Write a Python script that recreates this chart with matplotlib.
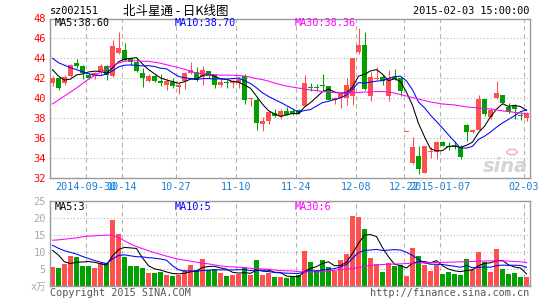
import numpy as np
import pandas as pd
import matplotlib
matplotlib.use("Agg")
import matplotlib.pyplot as plt
from matplotlib.patches import Circle

# daily candles, 80 sessions
opens = [41.5, 42.0, 41.5, 42.2, 43.5, 43.2, 42.3, 42.2, 42.6, 43.2,
         42.2, 44.5, 44.8, 44.0, 43.6, 42.5, 41.7, 42.2, 41.7, 41.3,
         41.6, 41.1, 41.7, 42.5, 42.6, 42.1, 42.7, 42.3, 41.3, 41.55,
         41.5, 41.5, 42.2, 39.9, 39.8, 37.4, 37.7, 38.5, 38.2, 38.7,
         38.7, 38.8, 39.2, 41.05, 41.05, 41.25, 41.2, 39.8, 40.0, 40.0,
         40.2, 44.6, 45.3, 40.2, 41.9, 42.1, 40.2, 42.1, 42.0, 36.6,
         33.5, 34.2, 32.5, 34.6, 34.6, 35.6, 35.15, 35.25, 35.1, 37.3,
         36.6, 36.8, 39.9, 38.1, 40.0, 40.3, 39.1, 39.2, 38.25, 38.0]
highs = [42.2, 42.1, 42.3, 43.4, 43.95, 43.3, 42.5, 42.6, 43.4, 43.3,
         45.8, 46.6, 45.5, 44.1, 43.9, 43.0, 42.4, 42.3, 42.4, 41.9,
         42.0, 41.5, 42.6, 43.6, 43.1, 43.2, 42.7, 42.4, 41.9, 41.8,
         41.9, 42.1, 42.4, 40.0, 40.0, 38.1, 38.7, 38.9, 38.9, 39.1,
         38.9, 38.9, 42.3, 41.5, 41.4, 42.4, 41.2, 40.1, 40.5, 42.0,
         44.0, 47.0, 46.6, 42.6, 43.1, 42.3, 42.8, 42.9, 42.1, 36.6,
         36.1, 35.2, 35.2, 35.1, 35.7, 35.7, 35.6, 35.7, 35.3, 37.4,
         36.9, 40.3, 39.9, 39.0, 41.7, 40.3, 39.5, 39.4, 38.6, 38.6]
lows = [41.2, 40.8, 41.3, 42.1, 43.0, 41.9, 41.9, 41.9, 42.4, 41.8,
        42.1, 44.4, 43.7, 43.3, 42.6, 41.1, 41.6, 41.6, 41.2, 40.8,
        41.0, 40.4, 40.9, 42.4, 41.7, 41.3, 42.0, 41.0, 41.1, 41.0,
        41.0, 41.0, 39.4, 39.2, 36.8, 36.7, 37.4, 38.1, 37.9, 38.3,
        38.3, 38.4, 39.2, 40.7, 40.7, 40.7, 39.8, 39.4, 39.0, 39.3,
        39.3, 44.4, 40.8, 39.7, 41.8, 41.3, 39.7, 41.8, 40.2, 36.6,
        33.4, 32.4, 32.5, 34.0, 33.9, 35.2, 34.8, 34.9, 33.9, 35.7,
        36.5, 36.8, 38.2, 37.9, 39.9, 39.5, 38.5, 37.9, 37.8, 37.7]
closes = [42.0, 41.0, 42.1, 43.3, 43.2, 42.5, 42.0, 42.5, 43.2, 42.3,
          45.2, 45.0, 43.8, 43.6, 42.7, 42.0, 42.2, 41.7, 41.5, 41.7,
          41.2, 41.3, 42.5, 42.8, 41.8, 42.8, 42.2, 41.3, 41.6, 41.5,
          41.7, 41.9, 39.8, 40.0, 37.5, 37.7, 38.6, 38.2, 38.7, 38.3,
          38.4, 38.5, 41.5, 41.0, 41.0, 41.2, 39.8, 40.0, 40.4, 41.3,
          44.0, 45.3, 40.9, 42.1, 42.0, 41.7, 42.0, 41.9, 40.7, 36.6,
          35.1, 32.9, 35.2, 34.62, 35.6, 35.2, 35.1, 35.2, 34.1, 36.6,
          36.8, 39.9, 38.4, 38.8, 40.5, 39.5, 38.6, 38.9, 38.2, 38.5]
volumes = [5.5, 5.2, 6.4, 8.8, 8.5, 5.9, 5.9, 5.2, 6.7, 6.7,
           19.3, 15.2, 8.5, 5.9, 5.9, 5.2, 3.8, 3.8, 4.1, 3.2,
           2.9, 3.2, 4.7, 6.2, 4.7, 7.8, 4.7, 5.0, 3.8, 2.9,
           3.2, 3.5, 5.5, 3.0, 7.4, 3.2, 3.6, 2.4, 2.6, 2.1,
           2.6, 3.2, 10.3, 7.1, 4.7, 7.4, 5.6, 4.4, 7.6, 9.4,
           20.6, 20.3, 16.8, 8.2, 6.5, 4.1, 6.8, 5.9, 6.2, 2.9,
           11.2, 8.8, 6.2, 4.4, 6.2, 3.5, 4.1, 3.5, 3.2, 7.9,
           4.5, 10.0, 7.1, 4.1, 10.9, 5.0, 3.5, 3.8, 2.6, 2.4]

ma5_head = [42.85, 42.2, 41.8, 41.9]
ma10_head = [44.0, 43.55, 43.3, 43.05, 42.85, 42.65, 42.45, 42.3, 42.25]
ma30 = [39.4, 39.8, 40.2, 40.6, 41.0, 41.45, 41.9, 42.25, 42.6, 42.95,
        43.3, 43.5, 43.7, 43.75, 43.75, 43.7, 43.7, 43.6, 43.5, 43.35,
        43.2, 43.05, 42.9, 42.7, 42.5, 42.45, 42.4, 42.35, 42.3, 42.3,
        42.3, 42.25, 42.2, 42.1, 41.95, 41.85, 41.7, 41.5, 41.35, 41.2,
        41.1, 41.0, 40.9, 40.8, 40.75, 40.65, 40.6, 40.55, 40.5, 40.5,
        40.5, 40.55, 40.6, 40.6, 40.65, 40.65, 40.6, 40.5, 40.35, 40.2,
        40.05, 39.9, 39.75, 39.6, 39.5, 39.4, 39.35, 39.3, 39.2, 39.1,
        39.05, 39.0, 38.95, 38.9, 38.8, 38.7, 38.65, 38.55, 38.5, 38.36]
vma5_head = [10.4, 9.0, 7.0, 6.5]
vma10_head = [11.9, 11.0, 10.3, 9.8, 9.3, 8.6, 8.0, 7.4, 6.9]
vma30 = [13.4, 13.5, 13.7, 13.9, 14.1, 14.4, 14.6, 14.7, 14.8, 14.9,
         14.9, 14.2, 13.2, 12.3, 11.5, 10.9, 10.3, 9.7, 9.2, 8.7,
         8.2, 7.8, 7.5, 7.2, 6.9, 6.6, 6.4, 6.1, 5.8, 5.6,
         5.5, 5.4, 5.3, 5.1, 5.0, 4.9, 4.8, 4.6, 4.4, 4.35,
         4.3, 4.1, 4.0, 4.0, 4.0, 4.1, 4.3, 4.5, 4.7, 4.85,
         5.0, 5.3, 5.6, 5.9, 6.1, 6.2, 6.3, 6.35, 6.4, 6.5,
         6.6, 6.65, 6.7, 6.75, 6.8, 6.85, 6.9, 6.95, 7.0, 7.05,
         7.1, 7.2, 7.25, 7.3, 7.3, 7.25, 7.2, 7.1, 7.0, 6.8]

date_slots = [6, 12, 21, 31, 41, 51, 59, 65, 79]
date_labels = ['2014-09-30', '10-14', '10-27', '11-10', '11-24',
               '12-08', '12-22', '2015-01-07', '02-03']

RED = '#ff5050'
GREEN = '#00a000'
GRID = '#b4b4b4'
MONO = 'DejaVu Sans Mono'
LW = 0.75

def with_head(values, n, head):
    s = pd.Series(values).rolling(n).mean().to_numpy()
    s[:len(head)] = head
    return s

ma5 = with_head(closes, 5, ma5_head)
ma10 = with_head(closes, 10, ma10_head)
vma5 = with_head(volumes, 5, vma5_head)
vma10 = with_head(volumes, 10, vma10_head)

W, H = 545, 300
fig = plt.figure(figsize=(W / 100, H / 100), dpi=100)

def px_axes(l, t, r, b):
    return fig.add_axes([l / W, 1 - b / H, (r - l) / W, (b - t) / H])

def ftext(x, y, s, **kw):
    fig.text(x / W, 1 - y / H, s, **kw)

x = np.arange(len(closes))
o = np.array(opens); c = np.array(closes)
up = c >= o
colors = np.where(up, RED, GREEN)
off = 2.5 / 6

ax = px_axes(50, 18.5, 530, 177.5)
axv = px_axes(50, 201, 530, 285.5)

for a in (ax, axv):
    a.set_xlim(-off, len(x) - off)
    for s in date_slots:
        a.axvline(s - off, color=GRID, lw=0.8, ls=(0, (4, 3)), zorder=0)
    for sp in a.spines.values():
        sp.set_color('#9a9a9a')
        sp.set_linewidth(1.0)
    a.tick_params(length=0)

# price panel
for yv in range(34, 48, 2):
    ax.axhline(yv, color=GRID, lw=0.8, ls=(0, (1, 2)), zorder=0)
ax.vlines(x, lows, highs, colors=colors, lw=LW, zorder=2)
body = np.maximum(np.abs(c - o), 0.07)
ax.bar(x, body, bottom=np.minimum(o, c), width=5 / 6, color=colors,
       linewidth=0, zorder=3)
ax.plot(x, ma5, color='black', lw=LW, zorder=4)
ax.plot(x, ma10, color='#0000ff', lw=LW, zorder=4)
ax.plot(x, ma30, color='#ff00ff', lw=LW, zorder=4)
ax.set_ylim(32, 48)
ax.set_yticks(range(32, 49, 2))
ax.set_yticklabels([str(v) for v in range(32, 49, 2)], color='#ff0000',
                   family=MONO, fontsize=7.5)
ax.set_xticks([s - off for s in date_slots])
ax.set_xticklabels(date_labels, color='#1a7fd4', family=MONO, fontsize=7.3)
ax.tick_params(axis='x', pad=3)
ax.tick_params(axis='y', pad=3)

# volume panel
for yv in range(5, 25, 5):
    axv.axhline(yv, color=GRID, lw=0.8, ls=(0, (1, 2)), zorder=0)
axv.bar(x, volumes, width=5 / 6, color=colors, linewidth=0, zorder=2)
axv.plot(x, vma5, color='black', lw=LW, zorder=4)
axv.plot(x, vma10, color='#0000ff', lw=LW, zorder=4)
axv.plot(x, vma30, color='#ff00ff', lw=LW, zorder=4)
axv.set_ylim(0, 25)
axv.set_yticks(range(5, 26, 5))
axv.set_yticklabels([str(v) for v in range(5, 26, 5)], color='#aaaaaa',
                    family=MONO, fontsize=7.5)
axv.tick_params(axis='y', pad=3)
axv.set_xticks([])

# header and legends
ftext(50, 11, 'sz002151', family=MONO, fontsize=7.4, va='center')
ftext(176, 11, '北斗星通 - 日K线图', family=['Noto Sans CJK SC', 'DejaVu Sans'],
      fontsize=9, va='center', ha='center')
ftext(529, 11, '2015-02-03 15:00:00', family=MONO, fontsize=7.4,
      va='center', ha='right')
ftext(55, 23.5, 'MA5:38.60', family=MONO, fontsize=7.3, va='center')
ftext(175, 23.5, 'MA10:38.70', family=MONO, fontsize=7.3, va='center',
      color='#0000ff')
ftext(295, 23.5, 'MA30:38.36', family=MONO, fontsize=7.3, va='center',
      color='#ff00ff')
ftext(55, 206.5, 'MA5:3', family=MONO, fontsize=7.3, va='center')
ftext(175, 206.5, 'MA10:5', family=MONO, fontsize=7.3, va='center',
      color='#0000ff')
ftext(295, 206.5, 'MA30:6', family=MONO, fontsize=7.3, va='center',
      color='#ff00ff')
ftext(46, 287, 'x万', family=[MONO, 'Noto Sans CJK SC'], fontsize=7,
      va='center', ha='right', color='#aaaaaa')
ftext(50, 293.5, 'Copyright 2015 SINA.COM', family=MONO, fontsize=7.3,
      va='center', color='#555555')
ftext(529, 293.5, 'http://finance.sina.com.cn', family=MONO, fontsize=7.3,
      va='center', ha='right', color='#555555')

# sina watermark
ftext(505, 166, 'sina', family='DejaVu Sans', fontsize=14, style='italic',
      weight='bold', color='#d4d4d4', va='center', ha='center', zorder=1)
fig.patches.append(Circle((512 / W, 1 - 152 / H), 5 / W, transform=fig.transFigure,
                          fill=False, ec='#f0b8b8', lw=1.2))

fig.savefig('out.png', dpi=100, facecolor='white')
